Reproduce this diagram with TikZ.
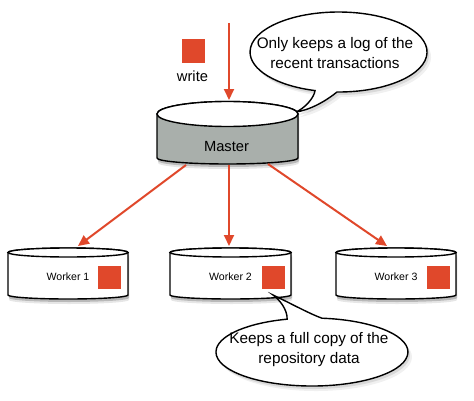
\documentclass[tikz,border=0pt]{standalone}
\usepackage{fontspec}
\setmainfont{Liberation Sans}
\usetikzlibrary{arrows.meta,shadows}
\definecolor{accent}{HTML}{E0482B}
\definecolor{mastergray}{HTML}{A9AFAB}
\newcommand\drawcyl[7]{%
  \path[outline,fill=#7,cylshadow]
    ({#1-#2},#3) -- ({#1-#2},#5)
    arc[start angle=180,end angle=360,x radius=#2,y radius=#6]
    -- ({#1+#2},#3)
    arc[start angle=0,end angle=180,x radius=#2,y radius=#4] -- cycle;
  \path[outline,fill=white] (#1,#3) ellipse[x radius=#2,y radius=#4];
}
\begin{document}
\begin{tikzpicture}[x=1pt,y=1pt,
  outline/.style={draw=black,line width=1.4pt},
  cylshadow/.style={
    drop shadow={shadow xshift=1pt,shadow yshift=-5pt,opacity=0.12,fill=black!80},
    drop shadow={shadow xshift=1pt,shadow yshift=-3pt,opacity=0.25,fill=black!80}},
  flow/.style={draw=accent,line width=2pt,-{Triangle[length=11pt,width=10pt]}},
  marker/.style={fill=accent,draw=none,minimum width=23pt,minimum height=23pt,inner sep=0pt},
  bubble/.style={outline,fill=white,
    drop shadow={shadow xshift=4pt,shadow yshift=-5pt,opacity=0.12},
    drop shadow={shadow xshift=2pt,shadow yshift=-3pt,opacity=0.2}},
  bigtxt/.style={font=\fontsize{15.3}{20}\selectfont,align=center,inner sep=0pt},
  midtxt/.style={font=\fontsize{14.7}{18}\selectfont,inner sep=0pt},
  smalltxt/.style={font=\fontsize{10.6}{13}\selectfont,inner sep=0pt}
]
\useasboundingbox (0,0) rectangle (474,400);

% callout 1
\path[bubble] (337,308) arc[start angle=-91,end angle=254.6,x radius=88.5,y radius=40]
  .. controls (314,302) and (305,292) .. (296,288)
  .. controls (310,290) and (326,299) .. cycle;
\node[bigtxt] (note1) at (335,347) {Only keeps a log of the\\recent transactions};

% cylinders
\drawcyl{227.5}{70.5}{286}{12.5}{242}{6}{mastergray}
\drawcyl{68}{60}{147.5}{4.5}{105}{4}{white}
\drawcyl{230.5}{60.5}{147.5}{4.5}{105}{4}{white}
\drawcyl{396}{60}{147.5}{4.5}{105}{4}{white}

% callout 2
\path[bubble] (322,81.8) arc[start angle=84,end angle=-255,x radius=96,y radius=34]
  .. controls (287.5,90) and (280,100) .. (273,105)
  .. controls (290,97) and (310,86) .. cycle;
\node[bigtxt] (note2) at (309,50.5) {Keeps a full copy of the\\repository data};

% labels and markers
\node[midtxt] (master) at (226.5,253) {Master};
\node[smalltxt] (w1) at (68,123) {Worker 1};
\node[smalltxt] (w2) at (230.5,123) {Worker 2};
\node[smalltxt] (w3) at (396,123) {Worker 3};
\node[marker] (sq1) at (109.5,122.5) {};
\node[marker] (sq2) at (273.5,122.5) {};
\node[marker] (sq3) at (438,122.5) {};
\node[marker,minimum height=24pt] (sqw) at (193.5,349) {};
\node[midtxt] (write) at (192.5,324) {write};

% connectors
\coordinate (in) at (229,377);
\coordinate (mtop) at (229,300);
\coordinate (m1) at (186,235);
\coordinate (m2) at (229,235);
\coordinate (m3) at (268,236);
\coordinate (t1) at (78,154);
\coordinate (t2) at (229,154);
\coordinate (t3) at (387,154);
\draw[flow] (in) -- (mtop);
\draw[flow] (m1) -- (t1);
\draw[flow] (m2) -- (t2);
\draw[flow] (m3) -- (t3);
\end{tikzpicture}
\end{document}
